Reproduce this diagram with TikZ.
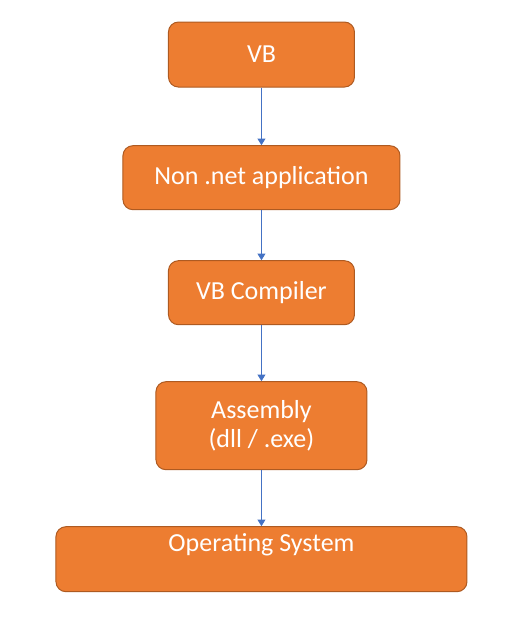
\documentclass[tikz,border=0pt]{standalone}
\usepackage{fontspec}
\setmainfont{Carlito}
\usepackage{xcolor}
\usetikzlibrary{shapes, arrows.meta, positioning}

\definecolor{boxfill}{HTML}{ED7D31}
\definecolor{boxline}{HTML}{AE5A21}
\definecolor{arrowblue}{HTML}{4472C4}

\begin{document}
\begin{tikzpicture}[
                box/.style={rectangle, draw=boxline, line width=0.75pt, fill=boxfill, text=white, minimum width=139.5pt, minimum height=48pt, font=\fontsize{19.5}{22}\selectfont, rounded corners=7.5pt, align=center},
                arrow/.style={-{Triangle[length=5pt, width=6pt]}, draw=arrowblue, line width=0.75pt}
            ]
                \useasboundingbox (-196.1pt, 40.9pt) rectangle (198.4pt, -436.1pt);

                \node[box, minimum height=48.75pt] (vb) at (0,0) {VB};
                \node[box, minimum width=207.75pt, below=43.25pt of vb] (nonnet) {Non .net application};
                \node[box, below=37.5pt of nonnet] (compiler) {VB Compiler};
                \node[box, minimum width=158.25pt, minimum height=66pt, below=42pt of compiler] (assembly) {Assembly\\(dll / .exe)};
                \node[box, minimum width=308.25pt, minimum height=48.75pt, text height=14pt, text depth=26pt, below=42pt of assembly] (os) {Operating System};

                \draw[arrow] (vb) -- (nonnet);
                \draw[arrow] (nonnet) -- (compiler);
                \draw[arrow] (compiler) -- (assembly);
                \draw[arrow] (assembly) -- (os);
            \end{tikzpicture}
\end{document}
